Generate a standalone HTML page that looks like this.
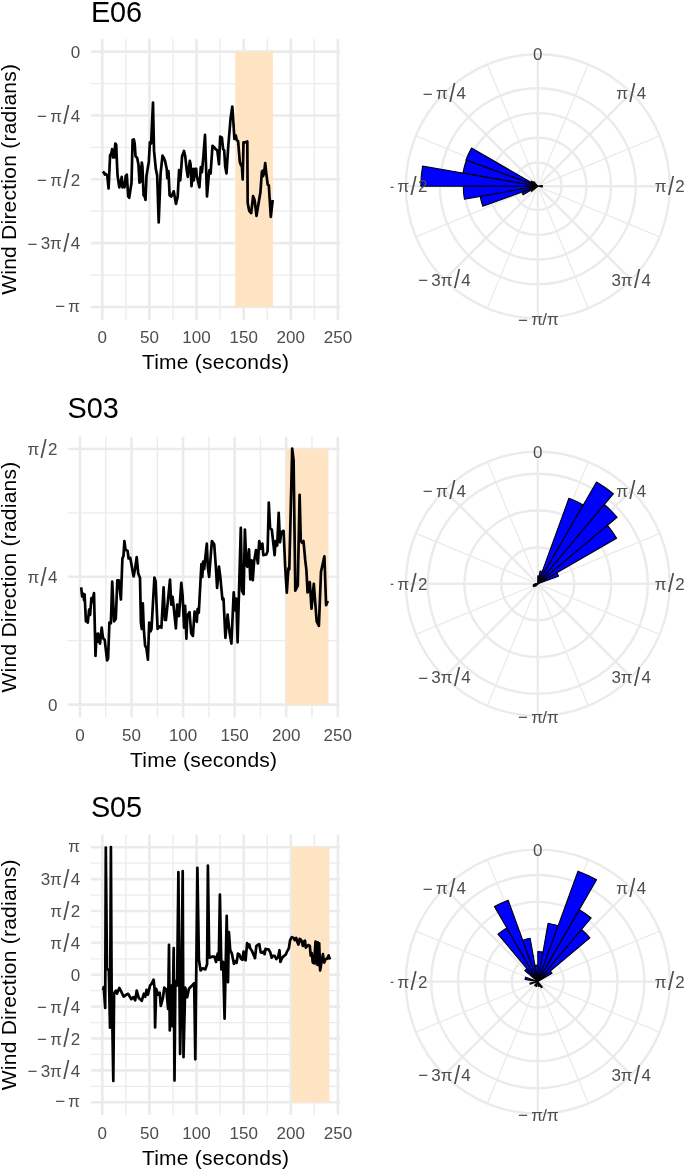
<!DOCTYPE html>
<html><head><meta charset="utf-8"><title>Wind direction</title>
<style>
html,body{margin:0;padding:0;background:#fff;}
body{width:685px;height:1170px;overflow:hidden;}
svg{display:block;font-family:"Liberation Sans", "DejaVu Sans", sans-serif;}
</style></head>
<body>
<svg width="685" height="1170" viewBox="0 0 685 1170">
<rect x="0" y="0" width="685" height="1170" fill="#fff"/>
<line x1="90.9" y1="83.53" x2="340.2" y2="83.53" stroke="#EBEBEB" stroke-width="1.3"/>
<line x1="90.9" y1="147.38" x2="340.2" y2="147.38" stroke="#EBEBEB" stroke-width="1.3"/>
<line x1="90.9" y1="211.22" x2="340.2" y2="211.22" stroke="#EBEBEB" stroke-width="1.3"/>
<line x1="90.9" y1="275.07" x2="340.2" y2="275.07" stroke="#EBEBEB" stroke-width="1.3"/>
<line x1="125.86" y1="38.8" x2="125.86" y2="319.8" stroke="#EBEBEB" stroke-width="1.3"/>
<line x1="172.99" y1="38.8" x2="172.99" y2="319.8" stroke="#EBEBEB" stroke-width="1.3"/>
<line x1="220.11" y1="38.8" x2="220.11" y2="319.8" stroke="#EBEBEB" stroke-width="1.3"/>
<line x1="267.24" y1="38.8" x2="267.24" y2="319.8" stroke="#EBEBEB" stroke-width="1.3"/>
<line x1="314.36" y1="38.8" x2="314.36" y2="319.8" stroke="#EBEBEB" stroke-width="1.3"/>
<line x1="90.9" y1="51.6" x2="340.2" y2="51.6" stroke="#EBEBEB" stroke-width="2.6"/>
<line x1="90.9" y1="115.45" x2="340.2" y2="115.45" stroke="#EBEBEB" stroke-width="2.6"/>
<line x1="90.9" y1="179.3" x2="340.2" y2="179.3" stroke="#EBEBEB" stroke-width="2.6"/>
<line x1="90.9" y1="243.15" x2="340.2" y2="243.15" stroke="#EBEBEB" stroke-width="2.6"/>
<line x1="90.9" y1="307" x2="340.2" y2="307" stroke="#EBEBEB" stroke-width="2.6"/>
<line x1="102.3" y1="38.8" x2="102.3" y2="319.8" stroke="#EBEBEB" stroke-width="2.6"/>
<line x1="149.43" y1="38.8" x2="149.43" y2="319.8" stroke="#EBEBEB" stroke-width="2.6"/>
<line x1="196.55" y1="38.8" x2="196.55" y2="319.8" stroke="#EBEBEB" stroke-width="2.6"/>
<line x1="243.68" y1="38.8" x2="243.68" y2="319.8" stroke="#EBEBEB" stroke-width="2.6"/>
<line x1="290.8" y1="38.8" x2="290.8" y2="319.8" stroke="#EBEBEB" stroke-width="2.6"/>
<line x1="337.93" y1="38.8" x2="337.93" y2="319.8" stroke="#EBEBEB" stroke-width="2.6"/>
<rect x="235.19" y="51.6" width="37.7" height="255.4" fill="#FFE4C4"/>
<polyline points="102.8,173.5 103.8,172.3 104.9,174.6 105.8,174 107.2,175.2 108.6,188.5 110.1,155 111.3,153.8 112.1,149.2 113,157.3 113.6,150.4 114.2,157.3 115.3,143.5 116.2,144.6 117,164.2 117.6,175.8 119.3,187.3 120.5,182.7 121.7,176.9 122.5,187.3 123.4,182.7 124.5,187.3 125.7,175.8 126.8,174.6 128.2,196.5 129.2,197.7 131.5,182.7 132.6,140 133.8,139.4 134.7,143.5 135.5,156.2 137.2,157.9 138.4,164.2 139.5,182.7 140.5,166.5 140.9,181.5 141.8,162.5 142.4,166.5 143.6,195.4 144.7,196.5 145.5,200 146.5,175.8 148.8,161.9 149.9,142.3 151.1,143.5 153,102.5 154,150.4 155.8,168.8 157.2,175.8 158.7,222.5 160.6,173.5 162.5,155.6 163.8,157.9 165,160.8 166.7,168.8 167.3,178.1 168.5,171.2 169.6,195.4 171.3,196.5 173.7,191.3 176,204 177.7,196.5 179.1,170 180.2,180.4 181.2,168.8 182.1,156.2 184,151 185.2,156.2 186.7,170 187.8,176.9 189.8,160.8 190.6,164.2 191.5,186.2 193.3,168.8 193.8,180.4 195.2,168.8 196.2,168.8 196.7,175.8 199.4,187.3 200.8,167.1 201.9,172.3 203.3,157.3 205,134.8 207,196.5 208.7,175.8 209.5,170 210.6,173.5 212.5,145.8 214.4,147.5 215.6,149.2 217.3,150.4 219,164.2 220.2,136.5 221.9,137.7 223.1,149.2 224.2,150.4 225.2,166.5 226.5,173.5 228.3,145.8 230.6,118.1 232.3,106.5 233.5,123.8 234.4,138.8 235.8,135.4 236.7,140 238.1,141.2 239.8,161.9 241,165.4 241.8,164.2 242.7,179.5 243.5,142.3 245.4,142.3 247.3,141.5 247.7,203 249.2,210.8 251.2,213.1 253.1,196.2 254.6,200 256.5,215.8 258.5,203.8 260.4,192.3 261.9,171.5 262.7,170.8 263.1,176.2 264.2,172.3 265.2,163.1 266.2,172.3 267.7,184.6 268.8,185.4 270.8,216.9 272.7,200" fill="none" stroke="#000" stroke-width="2.7" stroke-linejoin="round"/>
<text x="80.1" y="57.94" font-size="17" text-anchor="end" fill="#4D4D4D">0</text>
<text x="36.9" y="122.28" font-size="17" fill="#4D4D4D">−</text>
<text x="50.13" y="121.78" font-size="17" fill="#4D4D4D">π</text>
<text x="0" y="0" font-size="17" fill="#4D4D4D" transform="translate(63.31 124.38) scale(1.3 1.5)">/</text>
<text x="70.65" y="121.78" font-size="17" fill="#4D4D4D">4</text>
<text x="36.9" y="186.14" font-size="17" fill="#4D4D4D">−</text>
<text x="50.13" y="185.64" font-size="17" fill="#4D4D4D">π</text>
<text x="0" y="0" font-size="17" fill="#4D4D4D" transform="translate(63.31 188.24) scale(1.3 1.5)">/</text>
<text x="70.65" y="185.64" font-size="17" fill="#4D4D4D">2</text>
<text x="27.44" y="249.99" font-size="17" fill="#4D4D4D">−</text>
<text x="40.67" y="249.49" font-size="17" fill="#4D4D4D">3π</text>
<text x="0" y="0" font-size="17" fill="#4D4D4D" transform="translate(63.31 252.09) scale(1.3 1.5)">/</text>
<text x="70.65" y="249.49" font-size="17" fill="#4D4D4D">4</text>
<text x="55.14" y="312" font-size="17" fill="#4D4D4D">−</text>
<text x="68.37" y="311.5" font-size="17" fill="#4D4D4D">π</text>
<text x="102.3" y="343.2" font-size="17" text-anchor="middle" fill="#4D4D4D">0</text>
<text x="149.43" y="343.2" font-size="17" text-anchor="middle" fill="#4D4D4D">50</text>
<text x="196.55" y="343.2" font-size="17" text-anchor="middle" fill="#4D4D4D">100</text>
<text x="243.68" y="343.2" font-size="17" text-anchor="middle" fill="#4D4D4D">150</text>
<text x="290.8" y="343.2" font-size="17" text-anchor="middle" fill="#4D4D4D">200</text>
<text x="337.93" y="343.2" font-size="17" text-anchor="middle" fill="#4D4D4D">250</text>
<text x="215.55" y="369.3" font-size="21" text-anchor="middle" fill="#000" letter-spacing="0.24">Time (seconds)</text>
<text x="0" y="0" font-size="21" text-anchor="middle" fill="#000" letter-spacing="0.24" transform="translate(15.7 179.3) rotate(-90)">Wind Direction (radians)</text>
<text x="0" y="0" font-size="28.8" fill="#000" transform="translate(90.9 21.8) scale(1 1.03)">E06</text>
<line x1="67.6" y1="640.7" x2="339.8" y2="640.7" stroke="#EBEBEB" stroke-width="1.3"/>
<line x1="67.6" y1="512.9" x2="339.8" y2="512.9" stroke="#EBEBEB" stroke-width="1.3"/>
<line x1="105.78" y1="436.7" x2="105.78" y2="717.3" stroke="#EBEBEB" stroke-width="1.3"/>
<line x1="157.32" y1="436.7" x2="157.32" y2="717.3" stroke="#EBEBEB" stroke-width="1.3"/>
<line x1="208.88" y1="436.7" x2="208.88" y2="717.3" stroke="#EBEBEB" stroke-width="1.3"/>
<line x1="260.42" y1="436.7" x2="260.42" y2="717.3" stroke="#EBEBEB" stroke-width="1.3"/>
<line x1="311.98" y1="436.7" x2="311.98" y2="717.3" stroke="#EBEBEB" stroke-width="1.3"/>
<line x1="67.6" y1="704.6" x2="339.8" y2="704.6" stroke="#EBEBEB" stroke-width="2.6"/>
<line x1="67.6" y1="576.8" x2="339.8" y2="576.8" stroke="#EBEBEB" stroke-width="2.6"/>
<line x1="67.6" y1="449" x2="339.8" y2="449" stroke="#EBEBEB" stroke-width="2.6"/>
<line x1="80" y1="436.7" x2="80" y2="717.3" stroke="#EBEBEB" stroke-width="2.6"/>
<line x1="131.55" y1="436.7" x2="131.55" y2="717.3" stroke="#EBEBEB" stroke-width="2.6"/>
<line x1="183.1" y1="436.7" x2="183.1" y2="717.3" stroke="#EBEBEB" stroke-width="2.6"/>
<line x1="234.65" y1="436.7" x2="234.65" y2="717.3" stroke="#EBEBEB" stroke-width="2.6"/>
<line x1="286.2" y1="436.7" x2="286.2" y2="717.3" stroke="#EBEBEB" stroke-width="2.6"/>
<line x1="337.75" y1="436.7" x2="337.75" y2="717.3" stroke="#EBEBEB" stroke-width="2.6"/>
<rect x="286.2" y="449" width="42.27" height="255.6" fill="#FFE4C4"/>
<polyline points="81.2,587.3 82.1,596.3 83.3,593.7 84,600.1 84.6,594.4 85.9,621.3 87.2,620 87.8,622.6 89.1,609.7 90.1,614.9 91.4,598.2 92.3,602.1 94,593.1 95.5,655.9 96.5,634.1 97.4,641.8 98.1,633.5 100,643.7 101.7,627.7 103,638 104.7,639.9 107.1,660.4 108.1,658.5 109.4,622.6 110.9,623.2 112.2,581.5 114.1,621.3 115.8,618.7 117.3,580.3 118.8,580.3 120.9,599.5 122.4,558.5 123.5,555.9 124.4,541.2 125.6,550.1 127.6,550.8 128.6,558.5 130.3,558 133.6,576.4 135.1,568.7 136.7,557.2 138.3,573.8 140,577.7 140.9,622.6 141.8,629 142.8,603.3 143.8,629 145.1,645.6 146.4,648.2 147.9,659.7 149.2,622.6 150.5,631.5 151.5,629 154.4,577.7 155.6,581.5 157.6,629 159.7,626.4 161.4,627.7 163.6,587.3 164.9,620 165.9,620 167.8,602.1 170,579.6 171.3,604.6 172.6,596.9 175.9,628.3 177.2,604.6 179,616.2 181.3,582.8 182.6,595.6 184.1,627.7 185.1,605.9 186.4,638.6 187.3,615.4 189.5,612.2 191.2,633.3 192.9,635.9 194.6,611.5 195.5,614.1 196.8,621.8 197.6,609 198.8,612.8 201.4,564.1 202.3,576.9 203.2,561.5 204.2,569.2 204.9,561.5 206.8,543.6 207.8,566.7 209.1,576.9 211.9,541 214.2,544.2 215.8,566 217.1,587.8 219,566.7 220.3,576.9 222.4,599.4 223.5,598.7 225.4,637.8 227.6,614.7 229.6,632.7 231.4,643.6 233.7,592.3 235.3,610.3 236.3,598.7 237.6,642.3 240.8,527.8 242,591 243.6,594.2 244.9,529.5 246.4,565.4 247.4,566.7 249,549.4 250.3,579.5 251.5,560.3 252.8,580.1 254.1,561.5 256,550 257.9,563.5 259.2,541 260.8,548.7 262.4,543.6 263.3,555.1 266.3,554.5 267.6,551.3 268.8,502.6 270.1,528.2 271.8,529.5 274.6,555.1 275.6,541 277.2,545.5 278.7,512.8 280,542.3 281.3,532.1 283.6,530.8 285.1,565.4 286.8,592.7 288.4,568.4 289.3,569.3 292.2,448.6 293.6,460.5 295.3,590.7 297.8,585.5 299.6,494.8 300.8,541 302.1,542.7 303.5,541 305.2,559.9 306.4,570.1 307.6,592.4 309.8,582.1 311.5,608.7 313.8,583.8 316.7,621.5 318.9,625.8 321,571.8 324.4,556.4 326.1,605.2 327.8,601" fill="none" stroke="#000" stroke-width="2.7" stroke-linejoin="round"/>
<text x="57.4" y="710.94" font-size="17" text-anchor="end" fill="#4D4D4D">0</text>
<text x="27.43" y="583.14" font-size="17" fill="#4D4D4D">π</text>
<text x="0" y="0" font-size="17" fill="#4D4D4D" transform="translate(40.61 585.74) scale(1.3 1.5)">/</text>
<text x="47.95" y="583.14" font-size="17" fill="#4D4D4D">4</text>
<text x="27.43" y="455.33" font-size="17" fill="#4D4D4D">π</text>
<text x="0" y="0" font-size="17" fill="#4D4D4D" transform="translate(40.61 457.94) scale(1.3 1.5)">/</text>
<text x="47.95" y="455.33" font-size="17" fill="#4D4D4D">2</text>
<text x="80" y="741.1" font-size="17" text-anchor="middle" fill="#4D4D4D">0</text>
<text x="131.55" y="741.1" font-size="17" text-anchor="middle" fill="#4D4D4D">50</text>
<text x="183.1" y="741.1" font-size="17" text-anchor="middle" fill="#4D4D4D">100</text>
<text x="234.65" y="741.1" font-size="17" text-anchor="middle" fill="#4D4D4D">150</text>
<text x="286.2" y="741.1" font-size="17" text-anchor="middle" fill="#4D4D4D">200</text>
<text x="337.75" y="741.1" font-size="17" text-anchor="middle" fill="#4D4D4D">250</text>
<text x="203.7" y="767.2" font-size="21" text-anchor="middle" fill="#000" letter-spacing="0.24">Time (seconds)</text>
<text x="0" y="0" font-size="21" text-anchor="middle" fill="#000" letter-spacing="0.24" transform="translate(15.7 577) rotate(-90)">Wind Direction (radians)</text>
<text x="0" y="0" font-size="28.8" fill="#000" transform="translate(67.6 418.4) scale(1 1.03)">S03</text>
<line x1="90.9" y1="1086.36" x2="340.2" y2="1086.36" stroke="#EBEBEB" stroke-width="1.3"/>
<line x1="90.9" y1="1054.47" x2="340.2" y2="1054.47" stroke="#EBEBEB" stroke-width="1.3"/>
<line x1="90.9" y1="1022.58" x2="340.2" y2="1022.58" stroke="#EBEBEB" stroke-width="1.3"/>
<line x1="90.9" y1="990.69" x2="340.2" y2="990.69" stroke="#EBEBEB" stroke-width="1.3"/>
<line x1="90.9" y1="958.81" x2="340.2" y2="958.81" stroke="#EBEBEB" stroke-width="1.3"/>
<line x1="90.9" y1="926.92" x2="340.2" y2="926.92" stroke="#EBEBEB" stroke-width="1.3"/>
<line x1="90.9" y1="895.03" x2="340.2" y2="895.03" stroke="#EBEBEB" stroke-width="1.3"/>
<line x1="90.9" y1="863.14" x2="340.2" y2="863.14" stroke="#EBEBEB" stroke-width="1.3"/>
<line x1="125.86" y1="834.5" x2="125.86" y2="1115" stroke="#EBEBEB" stroke-width="1.3"/>
<line x1="172.99" y1="834.5" x2="172.99" y2="1115" stroke="#EBEBEB" stroke-width="1.3"/>
<line x1="220.11" y1="834.5" x2="220.11" y2="1115" stroke="#EBEBEB" stroke-width="1.3"/>
<line x1="267.24" y1="834.5" x2="267.24" y2="1115" stroke="#EBEBEB" stroke-width="1.3"/>
<line x1="314.36" y1="834.5" x2="314.36" y2="1115" stroke="#EBEBEB" stroke-width="1.3"/>
<line x1="90.9" y1="847.2" x2="340.2" y2="847.2" stroke="#EBEBEB" stroke-width="2.6"/>
<line x1="90.9" y1="879.09" x2="340.2" y2="879.09" stroke="#EBEBEB" stroke-width="2.6"/>
<line x1="90.9" y1="910.98" x2="340.2" y2="910.98" stroke="#EBEBEB" stroke-width="2.6"/>
<line x1="90.9" y1="942.86" x2="340.2" y2="942.86" stroke="#EBEBEB" stroke-width="2.6"/>
<line x1="90.9" y1="974.75" x2="340.2" y2="974.75" stroke="#EBEBEB" stroke-width="2.6"/>
<line x1="90.9" y1="1006.64" x2="340.2" y2="1006.64" stroke="#EBEBEB" stroke-width="2.6"/>
<line x1="90.9" y1="1038.53" x2="340.2" y2="1038.53" stroke="#EBEBEB" stroke-width="2.6"/>
<line x1="90.9" y1="1070.41" x2="340.2" y2="1070.41" stroke="#EBEBEB" stroke-width="2.6"/>
<line x1="90.9" y1="1102.3" x2="340.2" y2="1102.3" stroke="#EBEBEB" stroke-width="2.6"/>
<line x1="102.3" y1="834.5" x2="102.3" y2="1115" stroke="#EBEBEB" stroke-width="2.6"/>
<line x1="149.43" y1="834.5" x2="149.43" y2="1115" stroke="#EBEBEB" stroke-width="2.6"/>
<line x1="196.55" y1="834.5" x2="196.55" y2="1115" stroke="#EBEBEB" stroke-width="2.6"/>
<line x1="243.68" y1="834.5" x2="243.68" y2="1115" stroke="#EBEBEB" stroke-width="2.6"/>
<line x1="290.8" y1="834.5" x2="290.8" y2="1115" stroke="#EBEBEB" stroke-width="2.6"/>
<line x1="337.93" y1="834.5" x2="337.93" y2="1115" stroke="#EBEBEB" stroke-width="2.6"/>
<rect x="291.74" y="847.2" width="37.7" height="255.1" fill="#FFE4C4"/>
<polyline points="103,990 103.7,987 105.2,1008 105.8,847.5 107,969.1 108.8,969.7 110,1027.7 110.9,847 111.7,1000 112.4,1028 113.3,1080.9 114.1,993 115.9,990.6 116.9,993.6 119.3,988 121,991.2 123.7,996.6 126.1,994.8 128.1,993.8 131.3,999.2 133.5,997.1 135.2,1000.3 136.7,990.6 138.8,998.1 140,999 141.8,1000.7 143.9,993.7 145.3,996.8 146.6,989.8 147.9,994.6 150.1,985.4 151.4,984.1 153.6,979.7 154.5,988 155.1,1027.4 156.2,988.9 158,994.6 159.7,992.8 160.8,1006 162.8,998.5 164.3,987.6 166.4,989.7 168.1,1009 169,944.8 169.8,1030.4 171.1,985.5 172.4,1026.1 173.7,948 174.5,1080.6 175.4,981.2 177.1,985.5 178.4,872.1 180.1,1053.9 181.4,989.7 182.7,871 183.5,1057.1 185.2,987.6 187.2,997.2 188.9,988.7 192.1,985.5 194.2,983.3 195.3,1059.3 197.4,867.8 198.9,959.8 200.6,970.5 202.8,968.3 205.3,969.4 207.1,964.1 207.9,865.7 209.2,957.6 212.4,956.6 214.5,956.6 216,961.9 217.8,953.4 218.8,959.8 219.9,894.5 221.4,969.4 223.1,961.9 224.6,1018.6 226.7,915.9 228,982.2 228.9,932 230.2,950 231.8,953.3 233.9,963.8 235.3,961.2 236.6,962.9 237.9,953.7 239.2,954.2 240.9,958.5 242.3,959.9 243.6,951.5 244.5,959.4 245.6,960.3 247.1,943.2 248.4,947.2 249.3,944.5 250.3,948.5 251.9,950.7 253.6,955 255,958.1 256.3,946.3 257.6,945 259.3,944.1 260.7,952.4 262.4,952.8 263.7,951.5 264.6,954.2 265.5,948.9 266.8,949.3 268.5,949.3 270.3,952.4 271.6,957.7 272.9,955.9 274.7,955.9 276.4,959 278.2,956.8 279.5,950.2 280.4,962 282.2,957.7 283.9,956 285.7,954.7 287,951.6 288.8,948.5 290.1,940.2 291.8,937.2 293.6,938 294.9,940.2 296.2,938 297.5,942.4 298.4,944.6 299.7,938.9 301,939.8 301.9,942.4 302.9,945.9 303.8,941.5 305,940.7 305.8,947.7 307.2,945.9 308.5,945 309.8,945.9 310.7,955.5 311.7,952.9 312.8,962.6 314.2,963.4 315.5,941.5 316.8,964.3 317.7,942.4 318.5,965.2 319.2,943.3 320.1,970.4 321.6,961.7 322.9,954.2 324.2,962.6 325.5,959 326.9,959 328.6,955.5 329.9,959.5" fill="none" stroke="#000" stroke-width="2.7" stroke-linejoin="round"/>
<text x="68.37" y="851.7" font-size="17" fill="#4D4D4D">π</text>
<text x="40.67" y="885.42" font-size="17" fill="#4D4D4D">3π</text>
<text x="0" y="0" font-size="17" fill="#4D4D4D" transform="translate(63.31 888.02) scale(1.3 1.5)">/</text>
<text x="70.65" y="885.42" font-size="17" fill="#4D4D4D">4</text>
<text x="50.13" y="917.31" font-size="17" fill="#4D4D4D">π</text>
<text x="0" y="0" font-size="17" fill="#4D4D4D" transform="translate(63.31 919.91) scale(1.3 1.5)">/</text>
<text x="70.65" y="917.31" font-size="17" fill="#4D4D4D">2</text>
<text x="50.13" y="949.2" font-size="17" fill="#4D4D4D">π</text>
<text x="0" y="0" font-size="17" fill="#4D4D4D" transform="translate(63.31 951.8) scale(1.3 1.5)">/</text>
<text x="70.65" y="949.2" font-size="17" fill="#4D4D4D">4</text>
<text x="80.1" y="981.09" font-size="17" text-anchor="end" fill="#4D4D4D">0</text>
<text x="36.9" y="1013.47" font-size="17" fill="#4D4D4D">−</text>
<text x="50.13" y="1012.97" font-size="17" fill="#4D4D4D">π</text>
<text x="0" y="0" font-size="17" fill="#4D4D4D" transform="translate(63.31 1015.57) scale(1.3 1.5)">/</text>
<text x="70.65" y="1012.97" font-size="17" fill="#4D4D4D">4</text>
<text x="36.9" y="1045.36" font-size="17" fill="#4D4D4D">−</text>
<text x="50.13" y="1044.86" font-size="17" fill="#4D4D4D">π</text>
<text x="0" y="0" font-size="17" fill="#4D4D4D" transform="translate(63.31 1047.46) scale(1.3 1.5)">/</text>
<text x="70.65" y="1044.86" font-size="17" fill="#4D4D4D">2</text>
<text x="27.44" y="1077.25" font-size="17" fill="#4D4D4D">−</text>
<text x="40.67" y="1076.75" font-size="17" fill="#4D4D4D">3π</text>
<text x="0" y="0" font-size="17" fill="#4D4D4D" transform="translate(63.31 1079.35) scale(1.3 1.5)">/</text>
<text x="70.65" y="1076.75" font-size="17" fill="#4D4D4D">4</text>
<text x="55.14" y="1107.3" font-size="17" fill="#4D4D4D">−</text>
<text x="68.37" y="1106.8" font-size="17" fill="#4D4D4D">π</text>
<text x="102.3" y="1139" font-size="17" text-anchor="middle" fill="#4D4D4D">0</text>
<text x="149.43" y="1139" font-size="17" text-anchor="middle" fill="#4D4D4D">50</text>
<text x="196.55" y="1139" font-size="17" text-anchor="middle" fill="#4D4D4D">100</text>
<text x="243.68" y="1139" font-size="17" text-anchor="middle" fill="#4D4D4D">150</text>
<text x="290.8" y="1139" font-size="17" text-anchor="middle" fill="#4D4D4D">200</text>
<text x="337.93" y="1139" font-size="17" text-anchor="middle" fill="#4D4D4D">250</text>
<text x="215.55" y="1165.1" font-size="21" text-anchor="middle" fill="#000" letter-spacing="0.24">Time (seconds)</text>
<text x="0" y="0" font-size="21" text-anchor="middle" fill="#000" letter-spacing="0.24" transform="translate(15.7 974.75) rotate(-90)">Wind Direction (radians)</text>
<text x="0" y="0" font-size="28.8" fill="#000" transform="translate(90.9 816.6) scale(1 1.03)">S05</text>
<line x1="537.8" y1="186.3" x2="537.8" y2="54.3" stroke="#EBEBEB" stroke-width="2.4"/>
<line x1="537.8" y1="186.3" x2="588.31" y2="64.35" stroke="#EBEBEB" stroke-width="1.3"/>
<line x1="537.8" y1="186.3" x2="631.14" y2="92.96" stroke="#EBEBEB" stroke-width="2.4"/>
<line x1="537.8" y1="186.3" x2="659.75" y2="135.79" stroke="#EBEBEB" stroke-width="1.3"/>
<line x1="537.8" y1="186.3" x2="669.8" y2="186.3" stroke="#EBEBEB" stroke-width="2.4"/>
<line x1="537.8" y1="186.3" x2="659.75" y2="236.81" stroke="#EBEBEB" stroke-width="1.3"/>
<line x1="537.8" y1="186.3" x2="631.14" y2="279.64" stroke="#EBEBEB" stroke-width="2.4"/>
<line x1="537.8" y1="186.3" x2="588.31" y2="308.25" stroke="#EBEBEB" stroke-width="1.3"/>
<line x1="537.8" y1="186.3" x2="537.8" y2="318.3" stroke="#EBEBEB" stroke-width="2.4"/>
<line x1="537.8" y1="186.3" x2="487.29" y2="308.25" stroke="#EBEBEB" stroke-width="1.3"/>
<line x1="537.8" y1="186.3" x2="444.46" y2="279.64" stroke="#EBEBEB" stroke-width="2.4"/>
<line x1="537.8" y1="186.3" x2="415.85" y2="236.81" stroke="#EBEBEB" stroke-width="1.3"/>
<line x1="537.8" y1="186.3" x2="405.8" y2="186.3" stroke="#EBEBEB" stroke-width="2.4"/>
<line x1="537.8" y1="186.3" x2="415.85" y2="135.79" stroke="#EBEBEB" stroke-width="1.3"/>
<line x1="537.8" y1="186.3" x2="444.46" y2="92.96" stroke="#EBEBEB" stroke-width="2.4"/>
<line x1="537.8" y1="186.3" x2="487.29" y2="64.35" stroke="#EBEBEB" stroke-width="1.3"/>
<circle cx="537.8" cy="186.3" r="23.8" fill="none" stroke="#EBEBEB" stroke-width="2.4"/>
<circle cx="537.8" cy="186.3" r="48.6" fill="none" stroke="#EBEBEB" stroke-width="2.4"/>
<circle cx="537.8" cy="186.3" r="73.2" fill="none" stroke="#EBEBEB" stroke-width="2.4"/>
<circle cx="537.8" cy="186.3" r="98" fill="none" stroke="#EBEBEB" stroke-width="2.4"/>
<circle cx="537.8" cy="186.3" r="132" fill="none" stroke="#EBEBEB" stroke-width="2.4"/>
<path d="M537.8 186.3L530.87 182.3A8 8 0 0 1 531.67 181.16Z" fill="#0000FF" stroke="#000" stroke-width="1.1" stroke-linejoin="round"/>
<path d="M537.8 186.3L465.91 160.14A76.5 76.5 0 0 1 471.55 148.05Z" fill="#0000FF" stroke="#000" stroke-width="1.1" stroke-linejoin="round"/>
<path d="M537.8 186.3L462.95 173.1A76 76 0 0 1 466.38 160.31Z" fill="#0000FF" stroke="#000" stroke-width="1.1" stroke-linejoin="round"/>
<path d="M537.8 186.3L420.8 186.3A117 117 0 0 1 422.58 165.98Z" fill="#0000FF" stroke="#000" stroke-width="1.1" stroke-linejoin="round"/>
<path d="M537.8 186.3L464.43 199.24A74.5 74.5 0 0 1 463.3 186.3Z" fill="#0000FF" stroke="#000" stroke-width="1.1" stroke-linejoin="round"/>
<path d="M537.8 186.3L482.83 206.31A58.5 58.5 0 0 1 480.19 196.46Z" fill="#0000FF" stroke="#000" stroke-width="1.1" stroke-linejoin="round"/>
<path d="M537.8 186.3L523.08 194.8A17 17 0 0 1 521.83 192.11Z" fill="#0000FF" stroke="#000" stroke-width="1.1" stroke-linejoin="round"/>
<path d="M537.8 186.3L531.67 191.44A8 8 0 0 1 530.87 190.3Z" fill="#0000FF" stroke="#000" stroke-width="1.1" stroke-linejoin="round"/>
<path d="M537.8 186.3L533.2 182.44A6 6 0 0 1 533.94 181.7Z" fill="#0000FF" stroke="#000" stroke-width="1.1" stroke-linejoin="round"/>
<path d="M537.8 186.3L542.23 185.52A4.5 4.5 0 0 1 542.3 186.3Z" fill="#0000FF" stroke="#000" stroke-width="1.1" stroke-linejoin="round"/>
<path d="M537.8 186.3L542.3 186.3A4.5 4.5 0 0 1 542.23 187.08Z" fill="#0000FF" stroke="#000" stroke-width="1.1" stroke-linejoin="round"/>
<clipPath id="pc186"><rect x="390.73" y="39.63" width="293.33" height="293.33"/></clipPath>
<g clip-path="url(#pc186)">
<text x="537.8" y="60.34" font-size="17" text-anchor="middle" fill="#4D4D4D">0</text>
<text x="616.15" y="99" font-size="17" fill="#4D4D4D">π</text>
<text x="0" y="0" font-size="17" fill="#4D4D4D" transform="translate(629.33 101.6) scale(1.3 1.5)">/</text>
<text x="636.67" y="99" font-size="17" fill="#4D4D4D">4</text>
<text x="654.81" y="192.34" font-size="17" fill="#4D4D4D">π</text>
<text x="0" y="0" font-size="17" fill="#4D4D4D" transform="translate(667.99 194.94) scale(1.3 1.5)">/</text>
<text x="675.33" y="192.34" font-size="17" fill="#4D4D4D">2</text>
<text x="611.42" y="285.67" font-size="17" fill="#4D4D4D">3π</text>
<text x="0" y="0" font-size="17" fill="#4D4D4D" transform="translate(634.06 288.27) scale(1.3 1.5)">/</text>
<text x="641.4" y="285.67" font-size="17" fill="#4D4D4D">4</text>
<text x="517.95" y="325.94" font-size="17" fill="#4D4D4D">−</text>
<text x="531.27" y="325.44" font-size="17" fill="#4D4D4D">π</text>
<text x="542.2" y="325.44" font-size="17" fill="#4D4D4D">/π</text>
<text x="418.13" y="286.17" font-size="17" fill="#4D4D4D">−</text>
<text x="431.36" y="285.67" font-size="17" fill="#4D4D4D">3π</text>
<text x="0" y="0" font-size="17" fill="#4D4D4D" transform="translate(454 288.27) scale(1.3 1.5)">/</text>
<text x="461.34" y="285.67" font-size="17" fill="#4D4D4D">4</text>
<text x="384.2" y="192.84" font-size="17" fill="#4D4D4D">−</text>
<text x="397.43" y="192.34" font-size="17" fill="#4D4D4D">π</text>
<text x="0" y="0" font-size="17" fill="#4D4D4D" transform="translate(410.61 194.94) scale(1.3 1.5)">/</text>
<text x="417.95" y="192.34" font-size="17" fill="#4D4D4D">2</text>
<text x="422.86" y="99.5" font-size="17" fill="#4D4D4D">−</text>
<text x="436.09" y="99" font-size="17" fill="#4D4D4D">π</text>
<text x="0" y="0" font-size="17" fill="#4D4D4D" transform="translate(449.27 101.6) scale(1.3 1.5)">/</text>
<text x="456.61" y="99" font-size="17" fill="#4D4D4D">4</text>
</g>
<line x1="537.8" y1="583.8" x2="537.8" y2="451.8" stroke="#EBEBEB" stroke-width="2.4"/>
<line x1="537.8" y1="583.8" x2="588.31" y2="461.85" stroke="#EBEBEB" stroke-width="1.3"/>
<line x1="537.8" y1="583.8" x2="631.14" y2="490.46" stroke="#EBEBEB" stroke-width="2.4"/>
<line x1="537.8" y1="583.8" x2="659.75" y2="533.29" stroke="#EBEBEB" stroke-width="1.3"/>
<line x1="537.8" y1="583.8" x2="669.8" y2="583.8" stroke="#EBEBEB" stroke-width="2.4"/>
<line x1="537.8" y1="583.8" x2="659.75" y2="634.31" stroke="#EBEBEB" stroke-width="1.3"/>
<line x1="537.8" y1="583.8" x2="631.14" y2="677.14" stroke="#EBEBEB" stroke-width="2.4"/>
<line x1="537.8" y1="583.8" x2="588.31" y2="705.75" stroke="#EBEBEB" stroke-width="1.3"/>
<line x1="537.8" y1="583.8" x2="537.8" y2="715.8" stroke="#EBEBEB" stroke-width="2.4"/>
<line x1="537.8" y1="583.8" x2="487.29" y2="705.75" stroke="#EBEBEB" stroke-width="1.3"/>
<line x1="537.8" y1="583.8" x2="444.46" y2="677.14" stroke="#EBEBEB" stroke-width="2.4"/>
<line x1="537.8" y1="583.8" x2="415.85" y2="634.31" stroke="#EBEBEB" stroke-width="1.3"/>
<line x1="537.8" y1="583.8" x2="405.8" y2="583.8" stroke="#EBEBEB" stroke-width="2.4"/>
<line x1="537.8" y1="583.8" x2="415.85" y2="533.29" stroke="#EBEBEB" stroke-width="1.3"/>
<line x1="537.8" y1="583.8" x2="444.46" y2="490.46" stroke="#EBEBEB" stroke-width="2.4"/>
<line x1="537.8" y1="583.8" x2="487.29" y2="461.85" stroke="#EBEBEB" stroke-width="1.3"/>
<circle cx="537.8" cy="583.8" r="36.5" fill="none" stroke="#EBEBEB" stroke-width="2.4"/>
<circle cx="537.8" cy="583.8" r="73.3" fill="none" stroke="#EBEBEB" stroke-width="2.4"/>
<circle cx="537.8" cy="583.8" r="110" fill="none" stroke="#EBEBEB" stroke-width="2.4"/>
<circle cx="537.8" cy="583.8" r="132" fill="none" stroke="#EBEBEB" stroke-width="2.4"/>
<path d="M537.8 583.8L537.8 575.8A8 8 0 0 1 539.19 575.92Z" fill="#0000FF" stroke="#000" stroke-width="1.1" stroke-linejoin="round"/>
<path d="M537.8 583.8L540.06 571A13 13 0 0 1 542.25 571.58Z" fill="#0000FF" stroke="#000" stroke-width="1.1" stroke-linejoin="round"/>
<path d="M537.8 583.8L568.92 498.29A91 91 0 0 1 583.3 504.99Z" fill="#0000FF" stroke="#000" stroke-width="1.1" stroke-linejoin="round"/>
<path d="M537.8 583.8L596.55 482.04A117.5 117.5 0 0 1 613.33 493.79Z" fill="#0000FF" stroke="#000" stroke-width="1.1" stroke-linejoin="round"/>
<path d="M537.8 583.8L604.33 504.51A103.5 103.5 0 0 1 617.09 517.27Z" fill="#0000FF" stroke="#000" stroke-width="1.1" stroke-linejoin="round"/>
<path d="M537.8 583.8L607.51 525.31A91 91 0 0 1 616.61 538.3Z" fill="#0000FF" stroke="#000" stroke-width="1.1" stroke-linejoin="round"/>
<path d="M537.8 583.8L556.85 572.8A22 22 0 0 1 558.47 576.28Z" fill="#0000FF" stroke="#000" stroke-width="1.1" stroke-linejoin="round"/>
<path d="M537.8 583.8L535.87 586.1A3 3 0 0 1 535.5 585.73Z" fill="#0000FF" stroke="#000" stroke-width="1.1" stroke-linejoin="round"/>
<path d="M537.8 583.8L534.35 586.69A4.5 4.5 0 0 1 533.9 586.05Z" fill="#0000FF" stroke="#000" stroke-width="1.1" stroke-linejoin="round"/>
<path d="M537.8 583.8L533.47 586.3A5 5 0 0 1 533.1 585.51Z" fill="#0000FF" stroke="#000" stroke-width="1.1" stroke-linejoin="round"/>
<path d="M537.8 583.8L533.57 585.34A4.5 4.5 0 0 1 533.37 584.58Z" fill="#0000FF" stroke="#000" stroke-width="1.1" stroke-linejoin="round"/>
<path d="M537.8 583.8L534.85 584.32A3 3 0 0 1 534.8 583.8Z" fill="#0000FF" stroke="#000" stroke-width="1.1" stroke-linejoin="round"/>
<clipPath id="pc583"><rect x="390.73" y="437.13" width="293.33" height="293.33"/></clipPath>
<g clip-path="url(#pc583)">
<text x="537.8" y="457.83" font-size="17" text-anchor="middle" fill="#4D4D4D">0</text>
<text x="616.15" y="496.5" font-size="17" fill="#4D4D4D">π</text>
<text x="0" y="0" font-size="17" fill="#4D4D4D" transform="translate(629.33 499.1) scale(1.3 1.5)">/</text>
<text x="636.67" y="496.5" font-size="17" fill="#4D4D4D">4</text>
<text x="654.81" y="589.83" font-size="17" fill="#4D4D4D">π</text>
<text x="0" y="0" font-size="17" fill="#4D4D4D" transform="translate(667.99 592.43) scale(1.3 1.5)">/</text>
<text x="675.33" y="589.83" font-size="17" fill="#4D4D4D">2</text>
<text x="611.42" y="683.17" font-size="17" fill="#4D4D4D">3π</text>
<text x="0" y="0" font-size="17" fill="#4D4D4D" transform="translate(634.06 685.77) scale(1.3 1.5)">/</text>
<text x="641.4" y="683.17" font-size="17" fill="#4D4D4D">4</text>
<text x="517.95" y="723.43" font-size="17" fill="#4D4D4D">−</text>
<text x="531.27" y="722.93" font-size="17" fill="#4D4D4D">π</text>
<text x="542.2" y="722.93" font-size="17" fill="#4D4D4D">/π</text>
<text x="418.13" y="683.67" font-size="17" fill="#4D4D4D">−</text>
<text x="431.36" y="683.17" font-size="17" fill="#4D4D4D">3π</text>
<text x="0" y="0" font-size="17" fill="#4D4D4D" transform="translate(454 685.77) scale(1.3 1.5)">/</text>
<text x="461.34" y="683.17" font-size="17" fill="#4D4D4D">4</text>
<text x="384.2" y="590.33" font-size="17" fill="#4D4D4D">−</text>
<text x="397.43" y="589.83" font-size="17" fill="#4D4D4D">π</text>
<text x="0" y="0" font-size="17" fill="#4D4D4D" transform="translate(410.61 592.43) scale(1.3 1.5)">/</text>
<text x="417.95" y="589.83" font-size="17" fill="#4D4D4D">2</text>
<text x="422.86" y="497" font-size="17" fill="#4D4D4D">−</text>
<text x="436.09" y="496.5" font-size="17" fill="#4D4D4D">π</text>
<text x="0" y="0" font-size="17" fill="#4D4D4D" transform="translate(449.27 499.1) scale(1.3 1.5)">/</text>
<text x="456.61" y="496.5" font-size="17" fill="#4D4D4D">4</text>
</g>
<line x1="537.8" y1="981.6" x2="537.8" y2="849.6" stroke="#EBEBEB" stroke-width="2.4"/>
<line x1="537.8" y1="981.6" x2="588.31" y2="859.65" stroke="#EBEBEB" stroke-width="1.3"/>
<line x1="537.8" y1="981.6" x2="631.14" y2="888.26" stroke="#EBEBEB" stroke-width="2.4"/>
<line x1="537.8" y1="981.6" x2="659.75" y2="931.09" stroke="#EBEBEB" stroke-width="1.3"/>
<line x1="537.8" y1="981.6" x2="669.8" y2="981.6" stroke="#EBEBEB" stroke-width="2.4"/>
<line x1="537.8" y1="981.6" x2="659.75" y2="1032.11" stroke="#EBEBEB" stroke-width="1.3"/>
<line x1="537.8" y1="981.6" x2="631.14" y2="1074.94" stroke="#EBEBEB" stroke-width="2.4"/>
<line x1="537.8" y1="981.6" x2="588.31" y2="1103.55" stroke="#EBEBEB" stroke-width="1.3"/>
<line x1="537.8" y1="981.6" x2="537.8" y2="1113.6" stroke="#EBEBEB" stroke-width="2.4"/>
<line x1="537.8" y1="981.6" x2="487.29" y2="1103.55" stroke="#EBEBEB" stroke-width="1.3"/>
<line x1="537.8" y1="981.6" x2="444.46" y2="1074.94" stroke="#EBEBEB" stroke-width="2.4"/>
<line x1="537.8" y1="981.6" x2="415.85" y2="1032.11" stroke="#EBEBEB" stroke-width="1.3"/>
<line x1="537.8" y1="981.6" x2="405.8" y2="981.6" stroke="#EBEBEB" stroke-width="2.4"/>
<line x1="537.8" y1="981.6" x2="415.85" y2="931.09" stroke="#EBEBEB" stroke-width="1.3"/>
<line x1="537.8" y1="981.6" x2="444.46" y2="888.26" stroke="#EBEBEB" stroke-width="2.4"/>
<line x1="537.8" y1="981.6" x2="487.29" y2="859.65" stroke="#EBEBEB" stroke-width="1.3"/>
<circle cx="537.8" cy="981.6" r="26" fill="none" stroke="#EBEBEB" stroke-width="2.4"/>
<circle cx="537.8" cy="981.6" r="53" fill="none" stroke="#EBEBEB" stroke-width="2.4"/>
<circle cx="537.8" cy="981.6" r="79.7" fill="none" stroke="#EBEBEB" stroke-width="2.4"/>
<circle cx="537.8" cy="981.6" r="106.6" fill="none" stroke="#EBEBEB" stroke-width="2.4"/>
<circle cx="537.8" cy="981.6" r="132" fill="none" stroke="#EBEBEB" stroke-width="2.4"/>
<path d="M537.8 981.6L525 979.34A13 13 0 0 1 525.58 977.15Z" fill="#0000FF" stroke="#000" stroke-width="1.1" stroke-linejoin="round"/>
<path d="M537.8 981.6L524.78 970.67A17 17 0 0 1 526.87 968.58Z" fill="#0000FF" stroke="#000" stroke-width="1.1" stroke-linejoin="round"/>
<path d="M537.8 981.6L497.95 934.11A62 62 0 0 1 506.8 927.91Z" fill="#0000FF" stroke="#000" stroke-width="1.1" stroke-linejoin="round"/>
<path d="M537.8 981.6L494.5 906.6A86.6 86.6 0 0 1 508.18 900.22Z" fill="#0000FF" stroke="#000" stroke-width="1.1" stroke-linejoin="round"/>
<path d="M537.8 981.6L522.75 940.25A44 44 0 0 1 530.16 938.27Z" fill="#0000FF" stroke="#000" stroke-width="1.1" stroke-linejoin="round"/>
<path d="M537.8 981.6L534.93 965.35A16.5 16.5 0 0 1 537.8 965.1Z" fill="#0000FF" stroke="#000" stroke-width="1.1" stroke-linejoin="round"/>
<path d="M537.8 981.6L537.8 951.6A30 30 0 0 1 543.01 952.06Z" fill="#0000FF" stroke="#000" stroke-width="1.1" stroke-linejoin="round"/>
<path d="M537.8 981.6L548.1 923.2A59.3 59.3 0 0 1 558.08 925.88Z" fill="#0000FF" stroke="#000" stroke-width="1.1" stroke-linejoin="round"/>
<path d="M537.8 981.6L577.99 871.19A117.5 117.5 0 0 1 596.55 879.84Z" fill="#0000FF" stroke="#000" stroke-width="1.1" stroke-linejoin="round"/>
<path d="M537.8 981.6L579.3 909.72A83 83 0 0 1 591.15 918.02Z" fill="#0000FF" stroke="#000" stroke-width="1.1" stroke-linejoin="round"/>
<path d="M537.8 981.6L581.51 929.51A68 68 0 0 1 589.89 937.89Z" fill="#0000FF" stroke="#000" stroke-width="1.1" stroke-linejoin="round"/>
<path d="M537.8 981.6L550.44 970.99A16.5 16.5 0 0 1 552.09 973.35Z" fill="#0000FF" stroke="#000" stroke-width="1.1" stroke-linejoin="round"/>
<path d="M537.8 981.6L530.28 984.34A8 8 0 0 1 529.92 982.99Z" fill="#0000FF" stroke="#000" stroke-width="1.1" stroke-linejoin="round"/>
<path d="M537.8 981.6L542.3 986.96A7 7 0 0 1 541.3 987.66Z" fill="#0000FF" stroke="#000" stroke-width="1.1" stroke-linejoin="round"/>
<path d="M537.8 981.6L539.51 986.3A5 5 0 0 1 538.67 986.52Z" fill="#0000FF" stroke="#000" stroke-width="1.1" stroke-linejoin="round"/>
<path d="M537.8 981.6L535.3 985.93A5 5 0 0 1 534.59 985.43Z" fill="#0000FF" stroke="#000" stroke-width="1.1" stroke-linejoin="round"/>
<path d="M537.8 981.6L536.93 986.52A5 5 0 0 1 536.09 986.3Z" fill="#0000FF" stroke="#000" stroke-width="1.1" stroke-linejoin="round"/>
<clipPath id="pc981"><rect x="390.73" y="834.93" width="293.33" height="293.33"/></clipPath>
<g clip-path="url(#pc981)">
<text x="537.8" y="855.63" font-size="17" text-anchor="middle" fill="#4D4D4D">0</text>
<text x="616.15" y="894.3" font-size="17" fill="#4D4D4D">π</text>
<text x="0" y="0" font-size="17" fill="#4D4D4D" transform="translate(629.33 896.9) scale(1.3 1.5)">/</text>
<text x="636.67" y="894.3" font-size="17" fill="#4D4D4D">4</text>
<text x="654.81" y="987.63" font-size="17" fill="#4D4D4D">π</text>
<text x="0" y="0" font-size="17" fill="#4D4D4D" transform="translate(667.99 990.24) scale(1.3 1.5)">/</text>
<text x="675.33" y="987.63" font-size="17" fill="#4D4D4D">2</text>
<text x="611.42" y="1080.97" font-size="17" fill="#4D4D4D">3π</text>
<text x="0" y="0" font-size="17" fill="#4D4D4D" transform="translate(634.06 1083.57) scale(1.3 1.5)">/</text>
<text x="641.4" y="1080.97" font-size="17" fill="#4D4D4D">4</text>
<text x="517.95" y="1121.23" font-size="17" fill="#4D4D4D">−</text>
<text x="531.27" y="1120.73" font-size="17" fill="#4D4D4D">π</text>
<text x="542.2" y="1120.73" font-size="17" fill="#4D4D4D">/π</text>
<text x="418.13" y="1081.47" font-size="17" fill="#4D4D4D">−</text>
<text x="431.36" y="1080.97" font-size="17" fill="#4D4D4D">3π</text>
<text x="0" y="0" font-size="17" fill="#4D4D4D" transform="translate(454 1083.57) scale(1.3 1.5)">/</text>
<text x="461.34" y="1080.97" font-size="17" fill="#4D4D4D">4</text>
<text x="384.2" y="988.13" font-size="17" fill="#4D4D4D">−</text>
<text x="397.43" y="987.63" font-size="17" fill="#4D4D4D">π</text>
<text x="0" y="0" font-size="17" fill="#4D4D4D" transform="translate(410.61 990.24) scale(1.3 1.5)">/</text>
<text x="417.95" y="987.63" font-size="17" fill="#4D4D4D">2</text>
<text x="422.86" y="894.8" font-size="17" fill="#4D4D4D">−</text>
<text x="436.09" y="894.3" font-size="17" fill="#4D4D4D">π</text>
<text x="0" y="0" font-size="17" fill="#4D4D4D" transform="translate(449.27 896.9) scale(1.3 1.5)">/</text>
<text x="456.61" y="894.3" font-size="17" fill="#4D4D4D">4</text>
</g>
</svg>
</body></html>
